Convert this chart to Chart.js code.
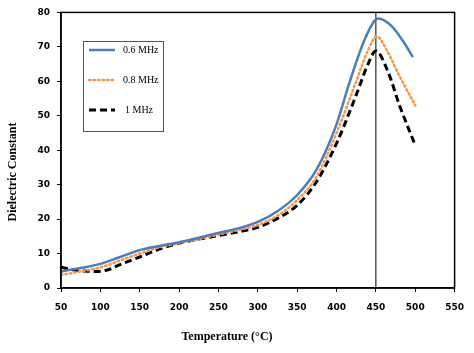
<!DOCTYPE html>
<html>
<head>
<meta charset="utf-8">
<script src="https://cdn.jsdelivr.net/npm/chart.js@4"></script>
<style>
  body { margin: 0; background: #fff; }
</style>
</head>
<body>
<canvas id="chart" width="474" height="353"></canvas>
<script>
/* Värden */
const temp06 = [50, 75, 100, 125, 150, 175, 200, 225, 250, 275, 300, 325, 350, 375, 400, 416, 437, 453, 470, 485, 497];
const eps06 = [4.8, 5.8, 7.0, 9.0, 11.0, 12.2, 13.3, 14.6, 16.0, 17.3, 19.2, 22.3, 27.0, 34.5, 47.5, 59.3, 72.8, 78.2, 76.0, 71.5, 67.0];

const temp08 = [50, 75, 100, 125, 150, 175, 200, 225, 250, 275, 300, 325, 350, 375, 400, 425, 440, 451, 465, 480, 500];
const eps08 = [3.8, 4.8, 6.0, 8.0, 10.0, 11.8, 13.0, 14.2, 15.5, 16.8, 18.3, 21.0, 25.5, 32.5, 45.0, 60.0, 69.0, 73.0, 68.5, 61.5, 53.0];

const temp1 = [50, 65, 80, 95, 110, 125, 150, 175, 200, 225, 250, 275, 300, 325, 350, 375, 400, 425, 440, 450, 465, 480, 500];
const eps1 = [6.0, 5.3, 4.9, 4.8, 5.3, 6.8, 9.0, 11.3, 13.0, 14.2, 15.2, 16.3, 17.6, 20.2, 24.0, 31.0, 42.0, 56.0, 65.0, 68.8, 63.0, 53.0, 41.4];

const seriesLabels = ['0.6 MHz', '0.8 MHz', '1 MHz'];
const xTicks = [50, 100, 150, 200, 250, 300, 350, 400, 450, 500, 550];
const yTicks = [0, 10, 20, 30, 40, 50, 60, 70, 80];
const peakLine = 450;

const toPoints = (xs, ys) => xs.map((x, i) => ({ x, y: ys[i] }));

const styles = [
  { color: '#4a7ebb', dash: [], width: 2.5, cap: 'butt' },
  { color: '#f79646', dash: [1.5, 3], width: 2.5, cap: 'round' },
  { color: '#000000', dash: [7, 4], width: 3, cap: 'butt' }
];

const datasets = [
  toPoints(temp06, eps06),
  toPoints(temp08, eps08),
  toPoints(temp1, eps1)
].map((data, i) => ({
  label: seriesLabels[i],
  data,
  borderColor: styles[i].color,
  borderDash: styles[i].dash,
  borderWidth: styles[i].width,
  borderCapStyle: styles[i].cap,
  pointRadius: 0,
  cubicInterpolationMode: 'monotone',
  fill: false
}));

/* Lodrät linje vid toppen */
datasets.push({
  label: 'peak',
  data: [{ x: peakLine, y: 0 }, { x: peakLine, y: 80 }],
  borderColor: '#000',
  borderWidth: 1,
  pointRadius: 0
});

/* Ram runt plottytan, förklaring och axeltitlar */
const decor = {
  id: 'decor',
  afterDraw(chart) {
    const { ctx, chartArea: a } = chart;
    ctx.save();
    ctx.strokeStyle = '#000';
    ctx.lineWidth = 1.5;
    ctx.strokeRect(a.left, a.top, a.right - a.left, a.bottom - a.top);

    // förklaring
    ctx.strokeStyle = '#555';
    ctx.lineWidth = 1;
    ctx.strokeRect(83.5, 41.5, 80, 90);
    const rows = [50, 80, 110];
    ctx.font = '10px "Liberation Serif"';
    ctx.textBaseline = 'middle';
    ctx.fillStyle = '#000';
    styles.forEach((s, i) => {
      ctx.beginPath();
      ctx.strokeStyle = s.color;
      ctx.lineWidth = s.width;
      ctx.setLineDash(s.dash);
      ctx.lineCap = s.cap;
      ctx.moveTo(89, rows[i]);
      ctx.lineTo(115, rows[i]);
      ctx.stroke();
      ctx.setLineDash([]);
      ctx.fillText(seriesLabels[i], i === 2 ? 125 : 123, rows[i]);
    });

    ctx.font = 'bold 12px "Liberation Serif"';
    ctx.textAlign = 'center';
    ctx.fillText('Temperature (\u00B0C)', 227, 337);

    ctx.translate(13, 172);
    ctx.rotate(-Math.PI / 2);
    ctx.fillText('Dielectric Constant', 0, 0);
    ctx.restore();
  }
};

const tickFont = { family: '"DejaVu Sans", sans-serif', size: 9, weight: 'bold' };

new Chart(document.getElementById('chart'), {
  type: 'line',
  data: { datasets },
  options: {
    responsive: false,
    animation: false,
    layout: { padding: { left: 0, right: 18, top: 12, bottom: 0 } },
    plugins: {
      legend: { display: false },
      tooltip: { enabled: false }
    },
    scales: {
      x: {
        type: 'linear',
        min: xTicks[0],
        max: xTicks[xTicks.length - 1],
        afterBuildTicks: (s) => { s.ticks = xTicks.map((v) => ({ value: v })); },
        afterFit: (s) => { s.height = 65; },
        grid: { display: true, drawOnChartArea: false, color: '#000', tickLength: 4 },
        border: { color: '#000', width: 1.5 },
        ticks: { color: '#000', font: tickFont, padding: 10, maxRotation: 0 }
      },
      y: {
        min: yTicks[0],
        max: yTicks[yTicks.length - 1],
        afterBuildTicks: (s) => { s.ticks = yTicks.map((v) => ({ value: v })); },
        afterFit: (s) => { s.width = 61; },
        grid: { display: true, drawOnChartArea: false, color: '#000', tickLength: 4 },
        border: { color: '#000', width: 1.5 },
        ticks: { color: '#000', font: tickFont, padding: 7 }
      }
    }
  },
  plugins: [decor]
});
</script>
</body>
</html>
